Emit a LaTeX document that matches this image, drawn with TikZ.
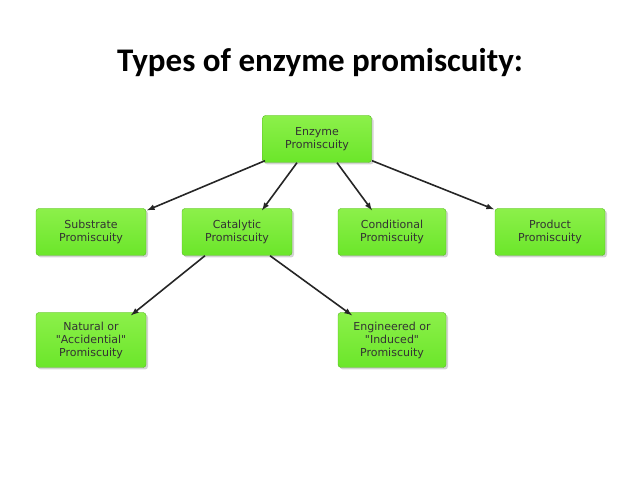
\documentclass[tikz,border=0pt]{standalone}
\usepackage{fontspec}
\setmainfont{Carlito}
\newfontfamily\boxfont{DejaVu Sans}
\usetikzlibrary{shadows}
\definecolor{boxgreen}{HTML}{6BE62A}
\definecolor{boxtop}{HTML}{8CF04A}
\definecolor{boxtext}{HTML}{333333}
\tikzset{
  pbox/.style={draw=boxgreen!80!black, line width=0.4pt, rounded corners=3pt,
    top color=boxtop, bottom color=boxgreen, minimum width=110pt, minimum height=47pt,
    align=center, text=boxtext, font=\boxfont\fontsize{11}{13}\selectfont,
    drop shadow={shadow xshift=2pt, shadow yshift=-2pt, opacity=0.35}},
  arr/.style={-latex, line width=1.6pt, draw=black!85}
}
\begin{document}
\begin{tikzpicture}[x=1pt,y=-1pt]
\useasboundingbox (0,0) rectangle (638,478);
\node[font=\bfseries\fontsize{33}{38}\selectfont] (title) at (320,63) {Types of enzyme promiscuity:};
\node[pbox, minimum width=109pt] (enz) at (317,139) {Enzyme\\Promiscuity};
\node[pbox] (sub) at (91,232) {Substrate\\Promiscuity};
\node[pbox] (cat) at (237,232) {Catalytic\\Promiscuity};
\node[pbox, minimum width=108pt] (con) at (392,232) {Conditional\\Promiscuity};
\node[pbox] (pro) at (550,232) {Product\\Promiscuity};
\node[pbox, minimum height=55pt] (nat) at (91,340) {Natural or\\"Accidential"\\Promiscuity};
\node[pbox, minimum width=108pt, minimum height=55pt] (eng) at (392,340) {Engineered or\\"Induced"\\Promiscuity};
\draw[arr] ([xshift=-52pt,yshift=2pt]enz.south) -- ([xshift=56pt,yshift=-2pt]sub.north);
\draw[arr] ([xshift=-20pt]enz.south) -- ([xshift=25pt,yshift=-2pt]cat.north);
\draw[arr] ([xshift=20pt]enz.south) -- ([xshift=-20pt,yshift=-2pt]con.north);
\draw[arr] ([xshift=55pt,yshift=2pt]enz.south) -- ([xshift=-56pt,yshift=-1pt]pro.north);
\draw[arr] ([xshift=-32pt]cat.south) -- ([xshift=40pt,yshift=-3pt]nat.north);
\draw[arr] ([xshift=33pt]cat.south) -- ([xshift=-40pt,yshift=-3pt]eng.north);
\end{tikzpicture}
\end{document}
